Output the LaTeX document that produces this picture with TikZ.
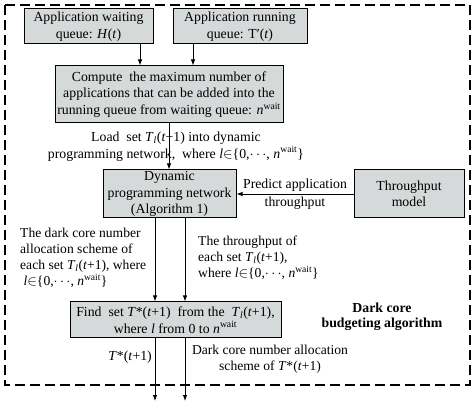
\documentclass[tikz,border=0pt]{standalone}
\usepackage{fontspec}
\setmainfont{Liberation Serif}
\usetikzlibrary{arrows.meta,positioning}
\definecolor{boxgray}{RGB}{214,217,217}

\begin{document}
\begin{tikzpicture}[x=1pt,y=-1pt,every node/.style={font=\fontsize{13.8pt}{16.5pt}\selectfont},
   blk/.style={draw,fill=boxgray,line width=1pt,align=center,inner sep=1pt},
   lbl/.style={align=left,inner sep=0pt,font=\fontsize{13.6pt}{16pt}\selectfont},
   arr/.style={line width=.9pt,-{Latex[length=6pt,width=4.5pt]}}]
  \useasboundingbox (0,0) rectangle (474,403);
  \draw[line width=1.8pt,dash pattern=on 10pt off 5pt] (5,5) rectangle (470,385);
  \node[blk,minimum width=129pt,minimum height=35pt](wait) at (88.5,26.5){Application waiting\\queue: \textit{H}(\textit{t})};
  \node[blk,minimum width=134pt,minimum height=35pt](run) at (240,26.5){Application running\\queue: T′(\textit{t})};
  \node[blk,minimum width=228pt,minimum height=57pt](comp) at (169,94.5){Compute\ \ the maximum number of\\applications that can be added into the\\running queue from waiting queue: \textit{n}\textsuperscript{wait}};
  \node[blk,minimum width=133pt,minimum height=48pt](dpn) at (169.5,194){Dynamic\\programming network\\(Algorithm 1)};
  \node[blk,minimum width=110pt,minimum height=48pt](tpm) at (409,194){Throughput\\model};
  \node[blk,minimum width=211pt,minimum height=36pt](find) at (175.5,320){Find\ \ set \textit{T}*(\textit{t}+1)\ \ from the\ \ \textit{T}\textsubscript{\textit{l}}(\textit{t}+1),\\where \textit{l} from 0 to \textit{n}\textsuperscript{wait}};
  \coordinate (w1) at ([xshift=51.5pt]wait.south);
  \coordinate (r1) at ([xshift=-47pt]run.south);
  \coordinate (o1) at (155,401);
  \coordinate (o2) at (185,401);
  % inputs of the budgeting step
  \foreach \c in {w1,r1}\draw[arr](\c)--(\c |- comp.north);
  \draw[arr](comp.south)--(comp.south |- dpn.north) node[midway,xshift=7pt,align=center,inner sep=0pt]{Load\ \ set \textit{T}\textsubscript{\textit{l}}(\textit{t}+1) into dynamic\\programming network,\ \ where \textit{l}$\in$\{0,$\cdots$, \textit{n}\textsuperscript{wait}\}};
  \draw[arr](tpm)--(dpn) node[midway,align=center]{Predict application\\[2pt]throughput};
  \foreach \o in {o1,o2}\draw[arr](dpn.south -| \o)--(find.north -| \o);
  \foreach \o in {o1,o2}\draw[arr](find.south -| \o)--(\o);
  \node[lbl,anchor=north west](lab1) at (20,228){The dark core number\\allocation scheme of\\each set \textit{T}\textsubscript{\textit{l}}(\textit{t}+1), where\\\ \textit{l}$\in$\{0,$\cdots$, \textit{n}\textsuperscript{wait}\}};
  \node[lbl,anchor=north west](lab2) at (198,236){The throughput of\\each set \textit{T}\textsubscript{\textit{l}}(\textit{t}+1),\\where \textit{l}$\in$\{0,$\cdots$, \textit{n}\textsuperscript{wait}\}};
  \node[align=center,font=\fontsize{13.8pt}{15pt}\selectfont\bfseries](title) at (382,317){Dark core\\budgeting algorithm};
  \node[anchor=east,inner sep=0pt](lab3) at (152,357){\textit{T}*(\textit{t}+1)};
  \node[lbl,align=center](lab4) at (270,359){Dark core number allocation\\scheme of \textit{T}*(\textit{t}+1)};
\end{tikzpicture}
\end{document}
